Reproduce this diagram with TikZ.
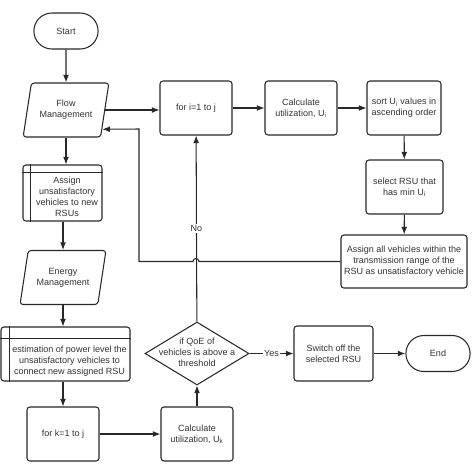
\documentclass[tikz,border=0pt]{standalone}
\usepackage{fontspec}
\setmainfont{Liberation Sans}
\usetikzlibrary{arrows.meta,positioning,shapes.geometric,shapes.misc,calc}
\definecolor{fcline}{RGB}{40,40,40}
\definecolor{fctext}{RGB}{50,50,50}

\begin{document}
\begin{tikzpicture}[
  x=0.03cm, y=-0.03cm,
  every node/.style={font=\fontsize{7.7}{9.4}\selectfont, text=fctext},
  term/.style={rounded rectangle, draw=fcline, line width=0.9pt, fill=white,
               minimum width=2.16cm, minimum height=1.08cm},
  pbox/.style={rectangle, rounded corners=2.5pt, draw=fcline, line width=0.9pt,
               fill=white, minimum width=2.16cm, minimum height=1.62cm,
               align=center, inner sep=1pt},
  iobox/.style={trapezium, trapezium left angle=72, trapezium right angle=108,
                trapezium stretches=true, rounded corners=2.5pt, draw=fcline,
                line width=0.9pt, fill=white, minimum width=2.58cm,
                minimum height=1.62cm, align=center, inner sep=0pt},
  dbox/.style={diamond, draw=fcline, line width=0.9pt, fill=white,
               minimum width=3.12cm, minimum height=1.89cm, inner sep=0pt},
  tlab/.style={align=center, inner sep=0pt},
  farr/.style={-{Latex[length=6.5pt,width=5pt]}, draw=fcline, line width=0.9pt},
  fline/.style={draw=fcline, line width=0.9pt}
]
\useasboundingbox (0,0) rectangle (474,474);

% Left column
\node[term]  (start)  at (66,31)      {Start};
\node[iobox] (flow)   at (66,110)     {Flow\\Management};
\node[pbox, minimum width=2.37cm, minimum height=1.68cm] (asgn) at (62.5,193) {};
\node[tlab]  (asgn-t) at (67,197)     {Assign\\unsatisfactory\\vehicles to new\\RSUs};
\node[iobox] (energy) at (63,277.5)   {Energy\\Management};
\node[pbox, minimum width=3.87cm] (est) at (65.5,354) {};
\node[tlab]  (est-t)  at (69.5,361)   {estimation of power level the\\unsatisfactory vehicles to\\connect new assigned RSU};
\node[pbox]  (fork)   at (63,434)     {for k=1 to j};

% Top row
\node[pbox]  (fori)   at (196,108)    {for i=1 to j};
\node[pbox]  (calci)  at (301,108)    {Calculate\\utilization, U\textsubscript{i}};
\node[pbox, minimum width=2.22cm] (sort) at (404,108) {sort U\textsubscript{i} values in\\ascending order};
\node[pbox, minimum width=2.31cm] (sel)  at (404.5,187) {select RSU that\\has min U\textsubscript{i}};
\node[pbox, minimum width=3.78cm, minimum height=1.59cm] (asall) at (404,261.5)
  {Assign all vehicles within the\\transmission range of the\\RSU as unsatisfactory vehicle};

% Bottom row
\node[pbox]  (calck)  at (197,434)    {Calculate\\utilization, U\textsubscript{k}};
\node[dbox]  (qoe)    at (197,353.5)  {};
\node[tlab]  (qoe-t)  at (197,352)    {if QoE of\\vehicles is above a\\threshold};
\node[pbox, minimum width=2.37cm, minimum height=1.65cm] (swoff) at (333.5,353.5) {Switch off the\\selected RSU};
\node[term]  (end)    at (438,353.5)  {End};

% Predefined process lines
\draw[fline] ($(asgn.north west)+(8,0)$) -- ($(asgn.south west)+(8,0)$);
\draw[fline] ($(asgn.north west)+(0,8)$) -- ($(asgn.north east)+(0,8)$);
\draw[fline] ($(est.north west)+(9,0)$) -- ($(est.south west)+(9,0)$);
\draw[fline] ($(est.north west)+(0,12)$) -- ($(est.north east)+(0,12)$);

% Arrows
\draw[farr] (start) -- (flow);
\draw[farr] (flow.east) -- (flow.east -| fori.west);
\draw[farr] (fori) -- (calci);
\draw[farr] (calci) -- (sort);
\draw[farr] (sort) -- (sel);
\draw[farr] (sel) -- (asall);
\draw[farr] (flow.south) -- (flow.south |- asgn.north);
\draw[farr] (asgn.south -| energy.north) -- (energy.north);
\draw[farr] (energy.south) -- (energy.south |- est.north);
\draw[farr] (est.south -| fork.north) -- (fork.north);
\draw[farr] (fork) -- (calck);
\draw[farr] (calck) -- (qoe);
\draw[farr] (qoe) -- node[fill=white, inner sep=1pt] {Yes} (swoff);
\draw[farr] (swoff) -- (end);

% Loop back
\coordinate (fback) at ($(flow.bottom right corner)!0.15!(flow.top right corner)$);
\coordinate (back)  at (139,129);
\draw[farr] (asall.west) -- ($(asall.west -| fori.south)+(3,0)$)
  arc[start angle=0, end angle=180, radius=0.09cm]
  -| (back) -- (fback);
\draw[farr] (qoe) -- node[fill=white, inner sep=1pt] {No} (fori);
\end{tikzpicture}
\end{document}
